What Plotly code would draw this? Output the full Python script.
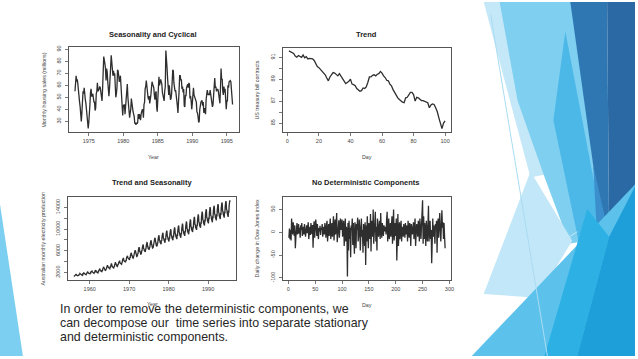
import plotly.graph_objects as go

W, H = 638, 359

# ---------------- data ----------------
hsales_start = 1973
hsales = [
    55, 60, 68, 63, 65, 61, 54, 52, 46, 42, 37, 30,
    37, 44, 55, 53, 58, 50, 48, 45, 41, 34, 30, 24,
    29, 34, 44, 54, 57, 51, 51, 53, 46, 46, 46, 39,
    41, 53, 55, 62, 55, 56, 57, 59, 58, 55, 49, 47,
    57, 68, 84, 81, 78, 74, 64, 74, 71, 63, 55, 51,
    57, 63, 75, 85, 80, 77, 68, 72, 68, 70, 53, 50,
    53, 58, 73, 72, 68, 63, 64, 68, 60, 54, 41, 35,
    43, 44, 44, 36, 44, 50, 55, 61, 50, 46, 39, 33,
    37, 40, 49, 44, 45, 38, 36, 34, 28, 29, 27, 29,
    28, 29, 36, 32, 36, 34, 31, 36, 39, 40, 39, 33,
    44, 46, 57, 59, 64, 59, 51, 50, 48, 51, 45, 48,
    52, 58, 63, 61, 59, 58, 52, 48, 53, 55, 42, 38,
    48, 55, 67, 60, 65, 65, 63, 61, 54, 52, 51, 47,
    55, 59, 89, 84, 75, 66, 57, 52, 60, 54, 48, 49,
    53, 59, 73, 72, 62, 58, 55, 56, 52, 52, 43, 37,
    43, 55, 68, 68, 64, 65, 57, 59, 54, 57, 43, 42,
    52, 51, 58, 60, 61, 58, 62, 61, 49, 51, 47, 40,
    45, 50, 58, 52, 50, 50, 46, 46, 38, 37, 34, 29,
    30, 40, 46, 46, 47, 47, 43, 46, 37, 41, 39, 36,
    48, 55, 56, 53, 52, 53, 52, 56, 51, 48, 42, 42,
    44, 50, 60, 66, 58, 59, 55, 57, 57, 56, 53, 51,
    45, 58, 74, 65, 65, 55, 52, 59, 54, 57, 45, 40,
    47, 47, 60, 58, 63, 64, 64, 63, 55, 54, 44,
]

ustreas = [
    91.57, 91.50, 91.45, 91.35, 91.10, 91.00, 91.15, 91.05, 90.98, 91.20,
    90.95, 91.05, 90.85, 90.90, 90.88, 90.85, 90.70, 90.45, 90.15, 90.05,
    89.90, 89.75, 89.55, 89.40, 89.10, 88.85, 89.20, 89.45, 89.60, 89.55,
    89.40, 89.30, 89.50, 89.30, 89.05, 88.90, 88.60, 88.70, 88.80, 89.00,
    88.55, 88.50, 88.40, 88.15, 88.00, 87.90, 87.95, 88.20, 88.15, 88.30,
    88.70, 89.20, 89.20, 89.35, 89.40, 89.30, 89.45, 89.50, 89.70, 89.55,
    89.30, 89.15, 88.90, 88.85, 88.55, 88.40, 88.05, 87.80, 87.50, 87.30,
    87.15, 87.00, 86.90, 86.85, 87.30, 87.35, 87.60, 87.80, 87.80, 87.60,
    87.00, 87.35, 87.30, 87.20, 87.05, 87.05, 87.00, 86.95, 86.85, 86.40,
    86.65, 86.75, 86.70, 86.40, 86.05, 85.50, 85.00, 84.50, 85.00, 85.20,
]

elec_start = 1956
elec = [
    1254, 1290, 1379, 1346, 1535, 1555, 1655, 1651, 1500, 1538, 1486, 1394,
    1409, 1387, 1543, 1502, 1693, 1616, 1841, 1787, 1631, 1649, 1586, 1500,
    1497, 1463, 1648, 1595, 1777, 1824, 1994, 1835, 1787, 1699, 1633, 1645,
    1597, 1577, 1709, 1756, 1936, 2052, 2105, 2016, 1914, 1925, 1824, 1765,
    1721, 1752, 1914, 1857, 2159, 2195, 2287, 2276, 2096, 2055, 2004, 1924,
    1851, 1839, 2019, 1937, 2270, 2251, 2382, 2364, 2129, 2110, 2072, 1980,
    1995, 1932, 2171, 2162, 2489, 2424, 2641, 2630, 2324, 2412, 2284, 2186,
    2184, 2144, 2379, 2383, 2717, 2774, 3051, 2891, 2613, 2600, 2493, 2410,
    2390, 2463, 2616, 2734, 2970, 3125, 3342, 3207, 2964, 2919, 2764, 2732,
    2622, 2698, 2950, 2895, 3200, 3408, 3679, 3473, 3154, 3107, 3052, 2918,
    2786, 2739, 3125, 3033, 3486, 3540, 3889, 3636, 3287, 3417, 3290, 3137,
    3093, 3210, 3528, 3432, 3823, 4040, 4189, 4171, 3762, 3697, 3613, 3604,
    3512, 3512, 3837, 3915, 4342, 4412, 4597, 4516, 4180, 4125, 4017, 3881,
    3848, 3880, 4266, 4134, 4714, 4961, 5097, 5086, 4703, 4604, 4487, 4300,
    4329, 4337, 4768, 4644, 5177, 5342, 5617, 5510, 5132, 5118, 4814, 4657,
    4637, 4737, 5200, 5063, 5637, 5787, 6104, 6000, 5400, 5437, 5138, 4963,
    5000, 5100, 5500, 5450, 6100, 6300, 6650, 6550, 5900, 5900, 5600, 5400,
    5450, 5450, 6050, 5900, 6550, 6800, 7150, 7000, 6350, 6400, 6050, 5850,
    5850, 5800, 6300, 6350, 6950, 7200, 7500, 7450, 6700, 6750, 6400, 6200,
    6250, 6200, 6700, 6600, 7300, 7500, 7900, 7800, 7050, 7100, 6750, 6500,
    6550, 6600, 7100, 7000, 7750, 8000, 8400, 8250, 7450, 7550, 7150, 6900,
    6950, 6850, 7500, 7350, 8150, 8450, 8850, 8700, 7850, 7950, 7550, 7300,
    7300, 7200, 7950, 7800, 8600, 8900, 9300, 9150, 8250, 8350, 7950, 7650,
    7550, 7500, 8250, 8000, 8950, 9250, 9700, 9550, 8600, 8650, 8200, 7900,
    7750, 7700, 8400, 8200, 9150, 9500, 9950, 9800, 8800, 8850, 8400, 8100,
    8000, 7950, 8750, 8500, 9500, 9850, 10300, 10100, 9100, 9100, 8650, 8350,
    8300, 8150, 9000, 8750, 9800, 10150, 10650, 10450, 9350, 9400, 8950, 8600,
    8550, 8400, 9250, 9000, 10100, 10500, 11000, 10750, 9650, 9700, 9200, 8850,
    8850, 8750, 9650, 9350, 10500, 10900, 11400, 11150, 10000, 10050, 9550, 9200,
    9150, 9050, 9950, 9700, 10850, 11300, 11800, 11550, 10350, 10400, 9850, 9500,
    9600, 9450, 10400, 10100, 11300, 11750, 12250, 12000, 10800, 10850, 10300, 9900,
    10000, 9850, 10800, 10500, 11750, 12200, 12700, 12450, 11200, 11250, 10700, 10300,
    10400, 10250, 11250, 10950, 12200, 12650, 13200, 12900, 11650, 11700, 11150, 10750,
    10850, 10650, 11700, 11350, 12650, 13100, 13650, 13400, 12050, 12100, 11550, 11150,
    11250, 11050, 12100, 11750, 13050, 13500, 14050, 13800, 12450, 12500, 11950, 11550,
    11500, 11250, 12350, 12000, 13300, 13750, 14300, 14050, 12700, 12750, 12150, 11750,
    11800, 11600, 12700, 12300, 13600, 14050, 14600, 14350, 13000, 13050, 12450, 12050,
    12050, 11850, 12950, 12600, 13900, 14350, 14900, 14650, 13300, 13350, 12750, 12350,
    12300, 12100, 13200, 12850, 14150, 14600, 15150, 14900, 13550, 13600, 13000, 12600,
    12450, 12250, 13350, 13000, 14300, 14750, 15300, 15050,
]

dj_change = [
    -12, 8, -15, 5, -18, 30, 10, -5, 22, 3, -8, 15, -35, -10, 12, 20, -5, 8, 18, -3,
    10, -12, 15, 5, 20, -8, 2, 12, -5, 18, 8, -10, 5, 15, -2, 10, 22, -15, 6, 12,
    -6, 20, 8, -4, 16, -34, 10, 24, -12, 5, 28, 12, -8, 18, 4, -15, 9, 2, 14, -6,
    10, 5, 18, -10, 3, 12, -5, 20, 8, -12, 15, 25, -20, 6, 18, -8, 12, 30, -15, 10,
    20, -10, 5, 35, -18, 12, 28, -5, 15, 42, -22, 8, 18, 26, -12, 10, 30, 5, 22, 28,
    -10, 15, 25, -30, 8, 30, -20, 12, 5, -97, 20, -40, 25, -15, 10, -55, 15, 5, 30, -28,
    20, -10, -47, 22, 10, -35, 18, 5, 32, -20, -8, 28, 12, -40, 20, 30, -10, 5, -45, 18,
    10, -30, 22, -72, 15, -20, 35, 5, -35, 20, 10, -15, 40, -42, 25, 8, -10, 50, -25, 15,
    5, 45, -20, 12, -40, 30, 18, -10, 8, 25, -15, 42, 5, -12, 20, 10, -8, 15, 3, 2,
    12, -5, 28, 45, -20, 10, 30, -15, 5, 20, -10, 15, 35, -25, 10, 50, -18, 5, 20, -8,
    30, -62, 15, 40, -30, 5, 22, -15, 10, 25, -20, 12, 5, -10, 18, 8, -12, 20, -5, 10,
    15, -20, 25, 5, -12, 20, 10, -30, 18, 8, -5, 12, 22, -15, 5, 30, -30, 10, 18, 8,
    -10, 25, 15, -20, 30, 10, -15, 20, 45, 70, -25, 35, -15, 20, 5, -30, 25, 10, -20, 15,
    58, -20, 10, 25, -15, 5, -68, 20, 30, -10, 15, 5, -25, 18, 8, 25, -45, 15, 30, -12,
    20, 42, 5, -20, 15, 48, 10, 22, -15, 20, -10, -35,
]

titles = ["Seasonality and Cyclical", "Trend", "Trend and Seasonality", "No Deterministic Components"]
ytitles = ["Monthly housing sales (millions)", "US treasury bill contracts",
           "Australian monthly electricity production", "Daily change in Dow Jones index"]
xtitles = ["Year", "Day", "Year", "Day"]

hs_xticks = [1975, 1980, 1985, 1990, 1995]
hs_yticks = [30, 40, 50, 60, 70, 80, 90]
us_xticks = [0, 20, 40, 60, 80, 100]
us_yticks = [85, 86, 87, 88, 89, 90, 91]
us_ylabels = ["85", "", "87", "", "89", "", "91"]
el_xticks = [1960, 1970, 1980, 1990]
el_yticks = [2000, 4000, 6000, 8000, 10000, 12000, 14000]
el_ylabels = ["2000", "", "6000", "", "10000", "", "14000"]
dj_xticks = [0, 50, 100, 150, 200, 250, 300]
dj_yticks = [-100, -50, 0, 50]

paragraph = ["In order to remove the deterministic components, we",
             "can decompose our  time series into separate stationary",
             "and deterministic components."]

# ---------------- helpers ----------------
def px(x):
    return x / W

def py(y):
    return 1 - y / H

FONT = "Liberation Sans, Arial, sans-serif"
LINE = dict(color="#2e2e2e", width=1.3)

hs_x = [hsales_start + i / 12 for i in range(len(hsales))]
el_x = [elec_start + i / 12 for i in range(len(elec))]
us_x = list(range(1, len(ustreas) + 1))
dj_x = list(range(1, len(dj_change) + 1))

def rlim(vals):
    lo, hi = min(vals), max(vals)
    d = (hi - lo) * 0.04
    return [lo - d, hi + d]

fig = go.Figure()

# ---------------- decorative background (slide theme), on a full-page pixel axis ----------------
deco = [
    ([(0, 205), (23, 359), (0, 359)], "#7ccff0"),
    ([(486, 0), (503, 0), (548, 175), (533, 178)], "#c4e8f8"),
    ([(502, 0), (575, 0), (606, 240), (572, 245), (548, 180), (520, 100)], "#7ecff0"),
    ([(568, 30), (607, 236), (582, 246), (556, 120)], "#4cb8e8"),
    ([(573, 0), (610, 0), (612, 238), (598, 180)], "#2f77b2"),
    ([(610, 0), (638, 0), (638, 187), (612, 238)], "#2a69a3"),
    ([(596, 165), (612, 238), (600, 240)], "#3b8fcc"),
    ([(533, 172), (575, 242), (540, 300), (486, 296)], "#c2e7f8"),
    ([(474, 359), (638, 185), (638, 359)], "#5cc2ec"),
    ([(547, 359), (590, 210), (612, 238), (580, 359)], "#2db1e5"),
    ([(580, 359), (612, 238), (638, 187), (638, 359)], "#1f9fd9"),
]
for pts, col in deco:
    xs = [p[0] for p in pts] + [pts[0][0]]
    ys = [p[1] for p in pts] + [pts[0][1]]
    fig.add_trace(go.Scatter(x=xs, y=ys, mode="lines", fill="toself", fillcolor=col,
                             line=dict(width=0, color=col), xaxis="x5", yaxis="y5", hoverinfo="skip"))
for (xa, ya, xb, yb, col) in [(493, 13, 550, 359, "#a9dcf3"), (487, 293, 580, 233, "#bfe6f7")]:
    fig.add_trace(go.Scatter(x=[xa, xb], y=[ya, yb], mode="lines", line=dict(width=1, color=col),
                             xaxis="x5", yaxis="y5", hoverinfo="skip"))

fig.add_trace(go.Scatter(x=hs_x, y=hsales, mode="lines", line=LINE, xaxis="x", yaxis="y", hoverinfo="skip"))
fig.add_trace(go.Scatter(x=us_x, y=ustreas, mode="lines", line=LINE, xaxis="x2", yaxis="y2", hoverinfo="skip"))
fig.add_trace(go.Scatter(x=el_x, y=elec, mode="lines", line=LINE, xaxis="x3", yaxis="y3", hoverinfo="skip"))
fig.add_trace(go.Scatter(x=dj_x, y=dj_change, mode="lines", line=LINE, xaxis="x4", yaxis="y4", hoverinfo="skip"))

boxes = [(69, 46, 240, 131.5), (284, 46.5, 453.5, 131.5), (68, 198, 237.5, 281.5), (284, 198, 453.5, 281.5)]

def axis(dom, rng, tv, tt, is_y, anchor):
    return dict(domain=dom, range=rng, tickvals=tv, ticktext=tt, anchor=anchor,
                ticks="outside", ticklen=3, tickwidth=0.8, tickcolor="#555",
                showline=True, linecolor="#555", linewidth=1, mirror=True,
                showgrid=False, zeroline=False, tickangle=-90 if is_y else 0,
                ticklabelstandoff=1, fixedrange=True,
                tickfont=dict(family=FONT, size=5.5, color="#444"))

specs = [
    (rlim(hs_x), hs_xticks, [str(v) for v in hs_xticks], rlim(hsales), hs_yticks, [str(v) for v in hs_yticks]),
    (rlim(us_x), us_xticks, [str(v) for v in us_xticks], rlim(ustreas), us_yticks, us_ylabels),
    (rlim(el_x), el_xticks, [str(v) for v in el_xticks], rlim(elec), el_yticks, el_ylabels),
    (rlim(dj_x), dj_xticks, [str(v) for v in dj_xticks], rlim(dj_change), dj_yticks, [str(v) for v in dj_yticks]),
]

lay = {}
for i, ((x0, y0, x1, y1), (xr, xtv, xtt, yr, ytv, ytt)) in enumerate(zip(boxes, specs)):
    sfx = "" if i == 0 else str(i + 1)
    lay["xaxis" + sfx] = axis([px(x0), px(x1)], xr, xtv, xtt, False, "y" + sfx)
    lay["yaxis" + sfx] = axis([py(y1), py(y0)], yr, ytv, ytt, True, "x" + sfx)
lay["xaxis5"] = dict(domain=[0, 1], range=[0, W], visible=False, anchor="y5", fixedrange=True)
lay["yaxis5"] = dict(domain=[0, 1], range=[H, 0], visible=False, anchor="x5", fixedrange=True)

annotations = []
title_pos = [(154, 33), (368, 33), (153, 183), (368, 183)]
for t, (x, y) in zip(titles, title_pos):
    annotations.append(dict(text="<b>" + t + "</b>", x=px(x), y=py(y), xref="paper", yref="paper",
                            xanchor="center", yanchor="middle",
                            showarrow=False, font=dict(family=FONT, size=7.5, color="#222")))
ytit_pos = [(44, 89), (258, 89), (43, 240), (258, 240)]
for t, (x, y) in zip(ytitles, ytit_pos):
    annotations.append(dict(text=t, x=px(x), y=py(y), xref="paper", yref="paper", textangle=-90,
                            xanchor="center", yanchor="middle",
                            showarrow=False, font=dict(family=FONT, size=5.3, color="#444")))
xtit_pos = [(154, 157), (369, 157), (153, 306), (369, 307)]
for t, (x, y) in zip(xtitles, xtit_pos):
    annotations.append(dict(text=t, x=px(x), y=py(y), xref="paper", yref="paper",
                            xanchor="center", yanchor="middle",
                            showarrow=False, font=dict(family=FONT, size=5.3, color="#444")))
for k, line in enumerate(paragraph):
    annotations.append(dict(text=line, x=px(59), y=py(311 + 14.3 * k), xref="paper", yref="paper",
                            xanchor="left", yanchor="middle", showarrow=False, borderpad=0,
                            font=dict(family="Liberation Sans, Arial, sans-serif", size=12.4, color="#262626")))

fig.update_layout(
    width=W, height=H, margin=dict(l=0, r=0, t=0, b=0),
    paper_bgcolor="white", plot_bgcolor="rgba(0,0,0,0)",
    showlegend=False, annotations=annotations, hovermode=False, **lay,
)
fig.write_html("out.html", config={"displayModeBar": False, "staticPlot": True},
               post_script="document.body.style.margin='0px';document.body.style.overflow='hidden';")
